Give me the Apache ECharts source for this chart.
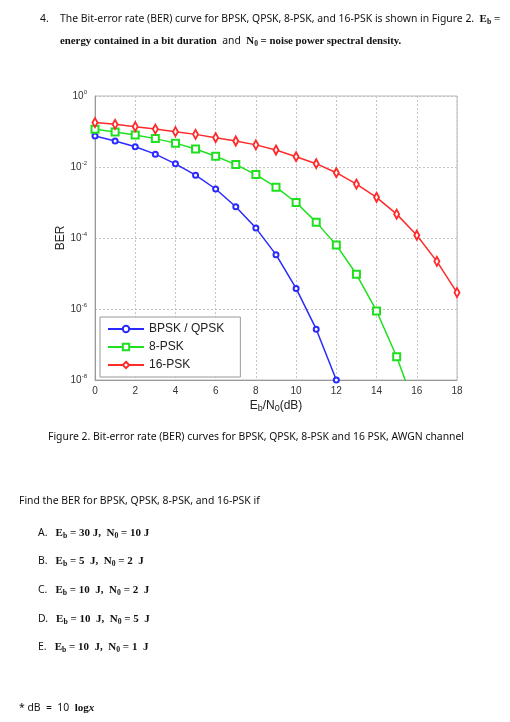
<!DOCTYPE html>
<html>
<head>
<meta charset="utf-8">
<script src="https://cdn.jsdelivr.net/npm/echarts@6/dist/echarts.min.js"></script>
<style>
  html, body { margin: 0; padding: 0; background: #fff; }
  #wrap { position: relative; width: 510px; height: 722px; overflow: hidden; }
  #chart { position: absolute; left: 0; top: 0; width: 510px; height: 722px; }
  .t { position: absolute; white-space: nowrap; color: #111; font-family: "Noto Sans", "Liberation Sans", sans-serif; font-size: 10.4px; line-height: 14px; }
  .serif { font-family: "Liberation Serif", "DejaVu Serif", serif; font-weight: bold; font-size: 10.8px; }
  .m { font-family: "Liberation Serif", "DejaVu Serif", serif; font-weight: bold; font-size: 11px; }
  sub { font-size: 70%; vertical-align: -2px; line-height: 0; }
</style>
</head>
<body>
<div id="wrap">
  <div id="chart"></div>
  <div class="t" style="left:40px;top:11px;">4.</div>
  <div class="t" style="left:60px;top:11px;">The Bit-error rate (BER) curve for BPSK, QPSK, 8-PSK, and 16-PSK is shown in Figure 2. &nbsp;<span class="m">E<sub>b</sub> =</span></div>
  <div class="t" style="left:60px;top:33px;"><span class="serif">energy contained in a bit duration</span> &nbsp;and&nbsp; <span class="serif">N<sub>0</sub> = noise power spectral density.</span></div>
  <div class="t" style="left:48px;top:429px;">Figure 2. Bit-error rate (BER) curves for BPSK, QPSK, 8-PSK and 16 PSK, AWGN channel</div>
  <div class="t" style="left:19px;top:493px;">Find the BER for BPSK, QPSK, 8-PSK, and 16-PSK if</div>
  <div class="t" style="left:38px;top:525px;">A.&nbsp;&nbsp; <span class="m">E<sub>b</sub> = 30 J, &nbsp;N<sub>0</sub> = 10 J</span></div>
  <div class="t" style="left:38px;top:553px;">B.&nbsp;&nbsp; <span class="m">E<sub>b</sub> = 5 &nbsp;J, &nbsp;N<sub>0</sub> = 2 &nbsp;J</span></div>
  <div class="t" style="left:38px;top:582px;">C.&nbsp;&nbsp; <span class="m">E<sub>b</sub> = 10 &nbsp;J, &nbsp;N<sub>0</sub> = 2 &nbsp;J</span></div>
  <div class="t" style="left:38px;top:611px;">D.&nbsp;&nbsp; <span class="m">E<sub>b</sub> = 10 &nbsp;J, &nbsp;N<sub>0</sub> = 5 &nbsp;J</span></div>
  <div class="t" style="left:38px;top:639px;">E.&nbsp;&nbsp; <span class="m">E<sub>b</sub> = 10 &nbsp;J, &nbsp;N<sub>0</sub> = 1 &nbsp;J</span></div>
  <div class="t" style="left:19px;top:700px;">* dB &nbsp;= &nbsp;10 &nbsp;<span class="m">log<i>x</i></span></div>
</div>
<script>
// Eb/N0 (dB) sample points
const ebn0 = [0, 1, 2, 3, 4, 5, 6, 7, 8, 9, 10, 11, 12, 13, 14, 15, 16, 17, 18];
// BER values
const berBpsk = [0.075, 0.054, 0.037, 0.023, 0.0123, 0.0059, 0.0024, 7.6e-4, 1.9e-4, 3.4e-5, 3.8e-6, 2.7e-7, 1e-8];
const ber8psk = [0.115, 0.097, 0.080, 0.063, 0.047, 0.032, 0.020, 0.0117, 0.0061, 0.0027, 0.0010, 2.8e-4, 6.3e-5, 9.5e-6, 8.8e-7, 4.5e-8, 1.3e-9];
const ber16psk = [0.178, 0.159, 0.137, 0.117, 0.099, 0.083, 0.067, 0.054, 0.042, 0.030, 0.0195, 0.0124, 0.0069, 0.0033, 0.0014, 4.7e-4, 1.2e-4, 2.2e-5, 2.9e-6];
const seriesNames = ['BPSK / QPSK', '8-PSK', '16-PSK'];
const xTickMin = 0, xTickMax = 18, xTickStep = 2;
const yMin = 1e-8, yMax = 1;

const pairs = vals => vals.map((v, i) => [ebn0[i], v]);

const chart = echarts.init(document.getElementById('chart'));
const axisFont = 'Liberation Sans, Arial, sans-serif';
chart.setOption({
  animation: false,
  backgroundColor: '#fff',
  grid: { left: 95, top: 96, width: 362, height: 284, show: true, borderColor: '#b8b8b8', borderWidth: 1, backgroundColor: 'transparent' },
  legend: {
    orient: 'vertical', left: 100, top: 317,
    data: seriesNames,
    backgroundColor: '#fff', borderColor: '#999', borderWidth: 1, borderRadius: 0,
    padding: [5, 16, 5, 7], itemGap: 4, itemWidth: 36, itemHeight: 8,
    itemStyle: { borderWidth: 1 },
    textStyle: { fontFamily: axisFont, fontSize: 12, color: '#222', lineHeight: 14 }
  },
  xAxis: {
    type: 'value', min: xTickMin, max: xTickMax, interval: xTickStep,
    axisLine: { show: true, lineStyle: { color: '#999', width: 1 } },
    axisTick: { show: false },
    axisLabel: { fontFamily: axisFont, fontSize: 10, color: '#333', margin: 6 },
    splitLine: { show: true, lineStyle: { color: '#c4c4c4', type: [2, 2], width: 1 } },
    name: 'E{s|b}/N{s|0}(dB)', nameLocation: 'middle', nameGap: 18, nameMoveOverlap: false,
    nameTextStyle: { fontFamily: axisFont, fontSize: 12, color: '#222',
      rich: { s: { fontFamily: axisFont, fontSize: 9, color: '#222', padding: [6, 0, 0, 0] } } }
  },
  yAxis: {
    type: 'log', logBase: 10, min: yMin, max: yMax, interval: 2,
    axisLine: { show: true, lineStyle: { color: '#999', width: 1 } },
    axisTick: { show: false },
    axisLabel: {
      margin: 8, color: '#333',
      formatter: v => '{b|10}{s|' + Math.round(Math.log10(v)) + '}',
      rich: {
        b: { fontFamily: axisFont, fontSize: 10, color: '#333' },
        s: { fontFamily: axisFont, fontSize: 6, color: '#333', padding: [0, 0, 7, 0] }
      }
    },
    splitLine: { show: true, lineStyle: { color: '#c4c4c4', type: [2, 2], width: 1 } },
    name: 'BER', nameLocation: 'middle', nameGap: 28, nameRotate: 90, nameMoveOverlap: false,
    nameTextStyle: { fontFamily: axisFont, fontSize: 12, color: '#222' }
  },
  series: [
    { name: seriesNames[0], type: 'line', data: pairs(berBpsk), clip: true,
      symbol: 'emptyCircle', symbolSize: 5, color: '#2a2aff',
      lineStyle: { width: 1.5 }, itemStyle: { borderWidth: 1.2 } },
    { name: seriesNames[1], type: 'line', data: pairs(ber8psk), clip: true,
      symbol: 'emptyRect', symbolSize: 7, color: '#1ee01e',
      lineStyle: { width: 1.5 }, itemStyle: { borderWidth: 1.2 } },
    { name: seriesNames[2], type: 'line', data: pairs(ber16psk), clip: true,
      symbol: 'emptyDiamond', symbolSize: [5, 9], color: '#ff2a2a',
      lineStyle: { width: 1.5 }, itemStyle: { borderWidth: 1.2 } }
  ]
});
</script>
</body>
</html>
